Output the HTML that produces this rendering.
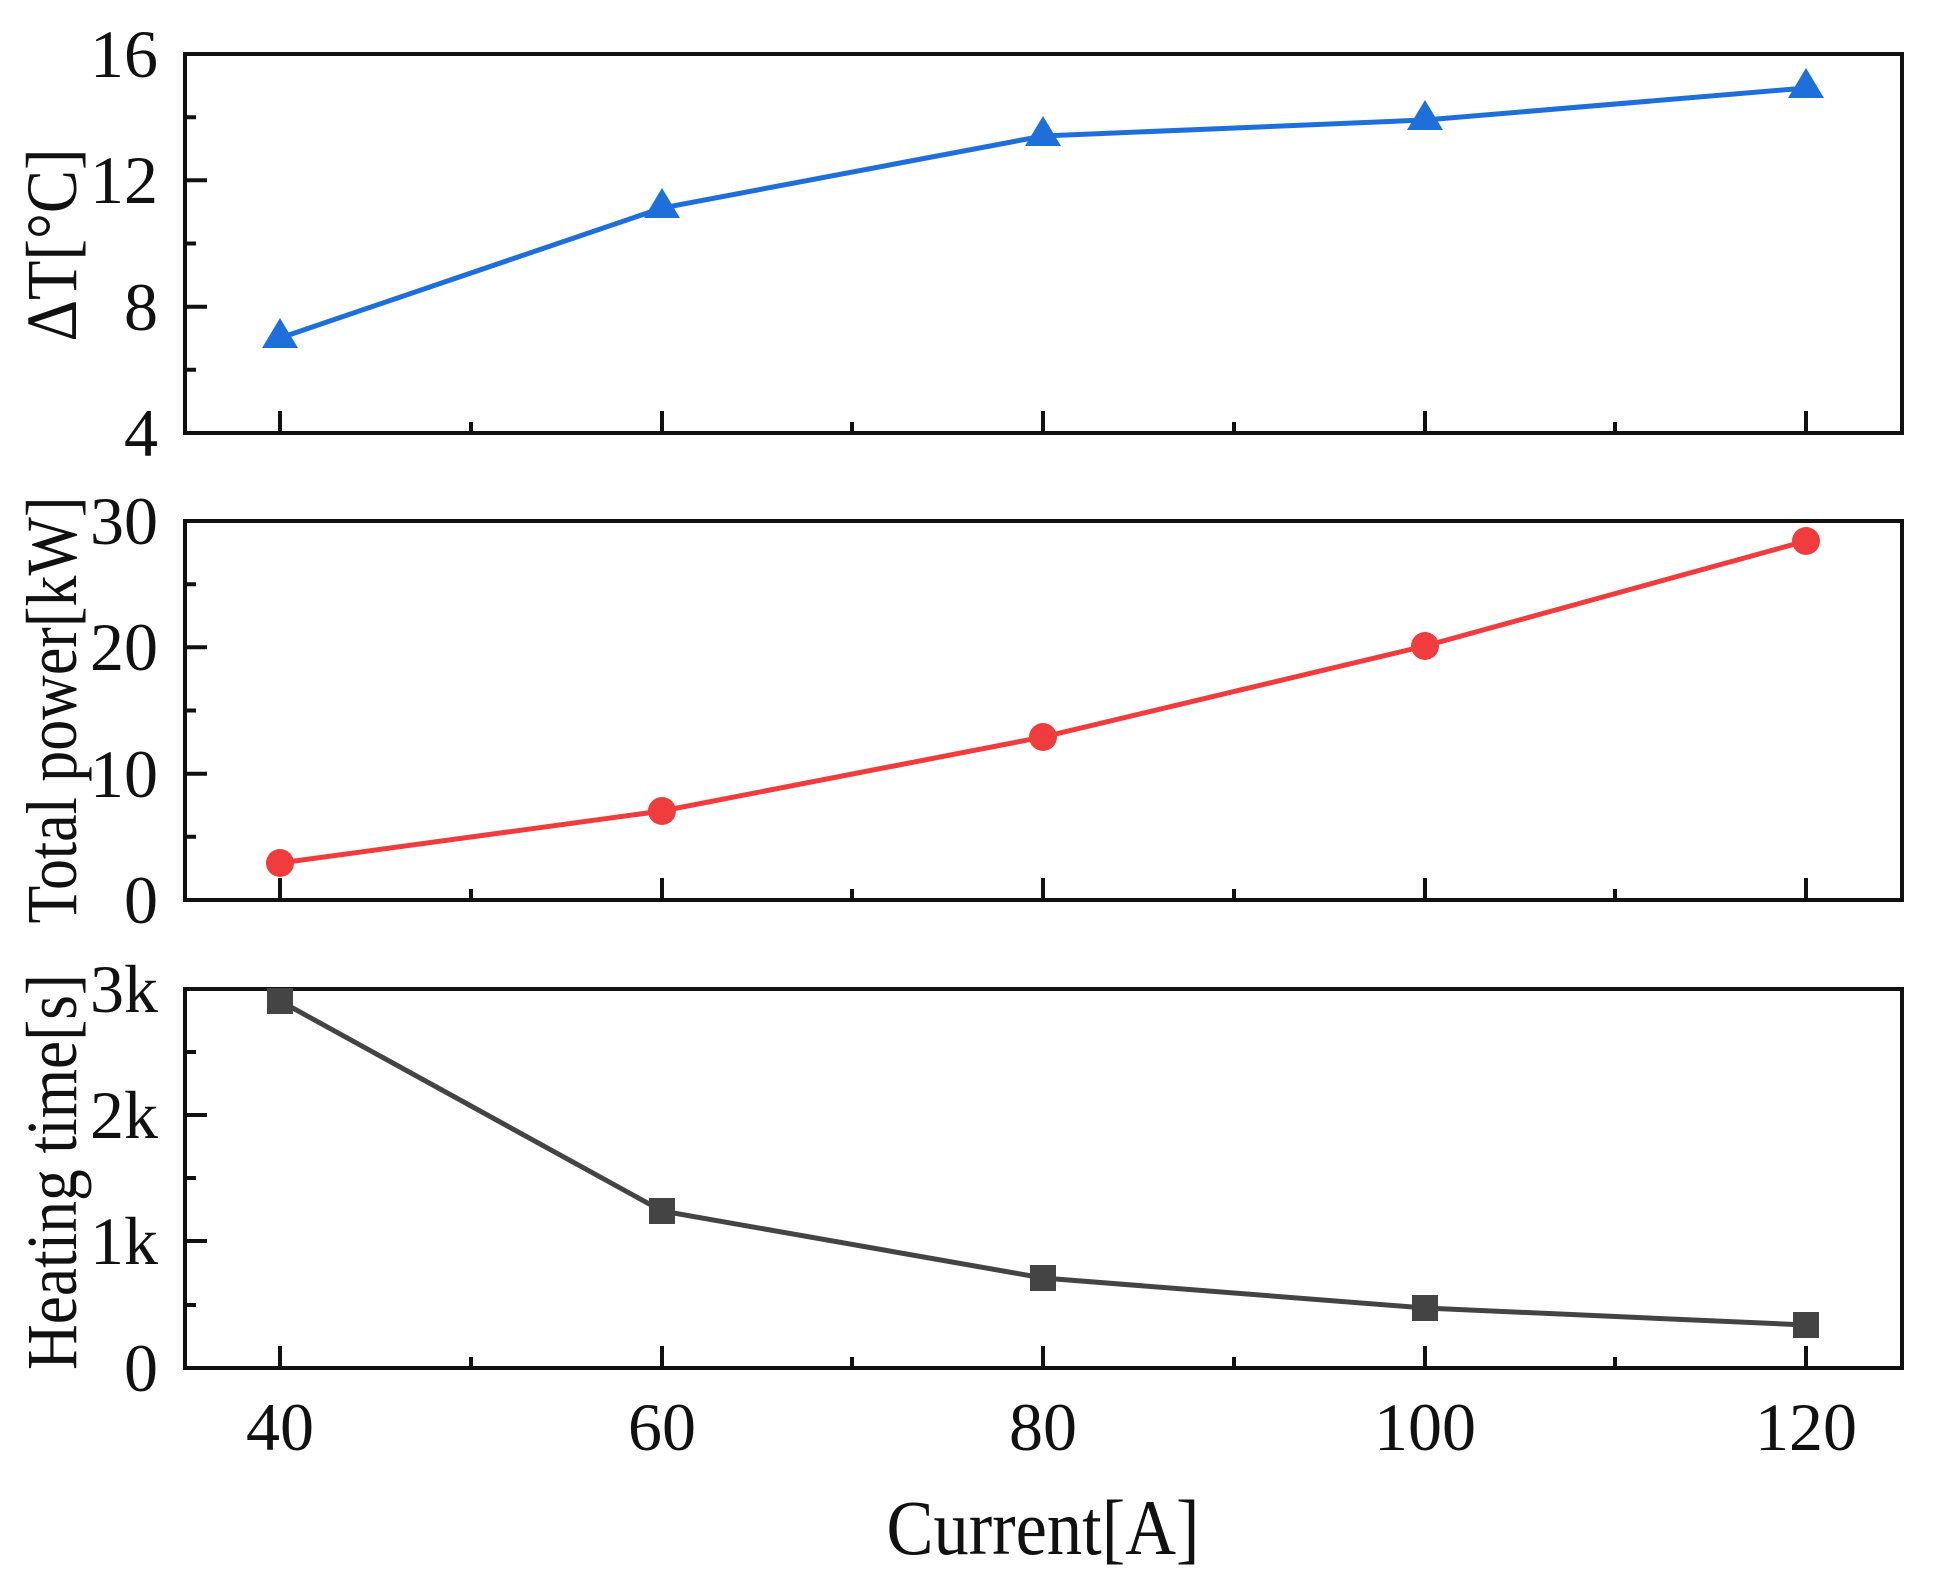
<!DOCTYPE html>
<html><head><meta charset="utf-8"><style>
html,body{margin:0;padding:0;background:#fff;}
svg{display:block;}
text{font-family:"Liberation Serif","DejaVu Serif",serif;fill:#111;}
</style></head><body>
<svg width="1956" height="1595" viewBox="0 0 1956 1595" xmlns="http://www.w3.org/2000/svg">
<g stroke="#111" stroke-width="4" fill="none">
<rect x="185" y="54" width="1717" height="379"/>
<rect x="185" y="521" width="1717" height="379"/>
<rect x="185" y="989" width="1717" height="379"/>
</g>
<g stroke="#111" stroke-width="4">
<path d="M280 433v-22M471 433v-11M662 433v-22M852 433v-11M1043 433v-22M1234 433v-11M1425 433v-22M1615 433v-11M1806 433v-22"/>
<path d="M280 900v-22M471 900v-11M662 900v-22M852 900v-11M1043 900v-22M1234 900v-11M1425 900v-22M1615 900v-11M1806 900v-22"/>
<path d="M280 1368v-22M471 1368v-11M662 1368v-22M852 1368v-11M1043 1368v-22M1234 1368v-11M1425 1368v-22M1615 1368v-11M1806 1368v-22"/>
<path d="M185 180.3h22M185 306.7h22M185 117.2h11M185 243.5h11M185 369.8h11"/>
<path d="M185 647.3h22M185 773.7h22M185 584.2h11M185 710.5h11M185 836.8h11"/>
<path d="M185 1115h22M185 1241h22M185 1052h11M185 1178h11M185 1305h11"/>
</g>
<g font-size="68" text-anchor="end">
<text x="158" y="77">16</text><text x="158" y="203">12</text><text x="158" y="330">8</text><text x="158" y="456">4</text>
<text x="158" y="544">30</text><text x="158" y="670">20</text><text x="158" y="797">10</text><text x="158" y="923">0</text>
<text x="158" y="1012">3k</text><text x="158" y="1138">2k</text><text x="158" y="1264">1k</text><text x="158" y="1391">0</text>
</g>
<g font-size="68" text-anchor="middle">
<text x="280" y="1450">40</text><text x="662" y="1450">60</text><text x="1043" y="1450">80</text><text x="1425" y="1450">100</text><text x="1806" y="1450">120</text>
</g>
<text x="1043" y="1554" font-size="78" text-anchor="middle" textLength="313" lengthAdjust="spacingAndGlyphs">Current[A]</text>
<g font-size="72" text-anchor="middle">
<text transform="translate(76,245) rotate(-90)" textLength="193" lengthAdjust="spacingAndGlyphs">ΔT[°C]</text>
<text transform="translate(76,710) rotate(-90)" textLength="427" lengthAdjust="spacingAndGlyphs">Total power[kW]</text>
<text transform="translate(76,1172) rotate(-90)" textLength="396" lengthAdjust="spacingAndGlyphs">Heating time[s]</text>
</g>
<polyline fill="none" stroke="#1f6fdb" stroke-width="5" points="280,338 662,208 1043,136 1425,120 1806,88"/>
<g fill="#1f6fdb">
<polygon points="280,318 262,348 298,348"/>
<polygon points="662,188 644,218 680,218"/>
<polygon points="1043,116 1025,146 1061,146"/>
<polygon points="1425,100 1407,130 1443,130"/>
<polygon points="1806,68 1788,98 1824,98"/>
</g>
<polyline fill="none" stroke="#f03c3c" stroke-width="5" points="280,863 662,811 1043,737 1425,646 1806,541"/>
<g fill="#f03c3c">
<circle cx="280" cy="863" r="14"/><circle cx="662" cy="811" r="14"/><circle cx="1043" cy="737" r="14"/><circle cx="1425" cy="646" r="14"/><circle cx="1806" cy="541" r="14"/>
</g>
<polyline fill="none" stroke="#444" stroke-width="5" points="280,1001 662,1211 1043,1278 1425,1308 1806,1325"/>
<g fill="#444">
<rect x="267" y="988" width="26" height="26"/><rect x="649" y="1198" width="26" height="26"/><rect x="1030" y="1265" width="26" height="26"/><rect x="1412" y="1295" width="26" height="26"/><rect x="1793" y="1312" width="26" height="26"/>
</g>
</svg>
</body></html>
